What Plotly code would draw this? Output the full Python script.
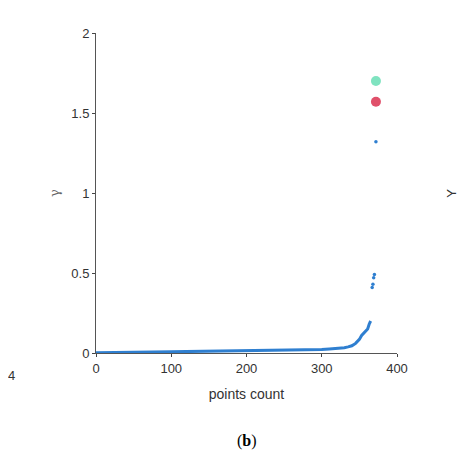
import plotly.graph_objects as go

# sorted gamma values (sampled) vs points count
x_low = [0, 10, 20, 30, 40, 50, 60, 70, 80, 90, 100, 120, 140, 160, 180, 200, 220, 240, 260,
         280, 300, 310, 320, 330, 335, 340, 345, 350, 353, 356, 359, 361, 363, 364, 365]
y_low = [0.002, 0.003, 0.004, 0.004, 0.005, 0.005, 0.006, 0.006, 0.007, 0.007, 0.008, 0.009,
         0.010, 0.011, 0.012, 0.013, 0.014, 0.016, 0.018, 0.020, 0.022, 0.025, 0.028, 0.033,
         0.038, 0.045, 0.060, 0.085, 0.11, 0.125, 0.135, 0.15, 0.18, 0.195, 0.20]
x_high = [367, 368, 369, 370, 372]
y_high = [0.41, 0.43, 0.47, 0.49, 1.32]
x_big = [372, 372]
y_big = [1.70, 1.57]
big_colors = ['#7fe3c0', '#e0506a']

blue = '#2f7fd0'
fig = go.Figure()
fig.add_trace(go.Scatter(x=x_low, y=y_low, mode='lines', line=dict(color=blue, width=3)))
fig.add_trace(go.Scatter(x=x_high, y=y_high, mode='markers', marker=dict(color=blue, size=3.5)))
fig.add_trace(go.Scatter(x=x_big, y=y_big, mode='markers', marker=dict(color=big_colors, size=10)))

font = dict(family='Liberation Sans, Arial, sans-serif', size=13, color='#333')
fig.update_layout(
    width=474, height=474, showlegend=False,
    paper_bgcolor='white', plot_bgcolor='white',
    margin=dict(l=88, r=85, t=25, b=129),
    font=font,
    xaxis=dict(range=[0, 400], tickvals=[0, 100, 200, 300, 400], showgrid=False, zeroline=False,
               showline=True, linecolor='#555', linewidth=1, ticks='outside', ticklen=3,
               title=dict(text='points count', font=dict(size=14, color='#333'), standoff=14)),
    yaxis=dict(range=[0, 2], tickvals=[0, 0.5, 1, 1.5, 2], ticktext=['0', '0.5', '1', '1.5', '2'],
               showgrid=False, zeroline=False, showline=True, linecolor='#555', linewidth=1,
               ticks='outside', ticklen=3,
               title=dict(text='γ', font=dict(family='DejaVu Serif, serif', size=13, color='#666'),
                          standoff=8)),
)
fig.add_annotation(text='(<b>b</b>)', x=0.5, y=-0.31, xref='paper', yref='paper', showarrow=False,
                   font=dict(family='Liberation Serif, serif', size=16, color='#000'))
fig.add_annotation(text='4', x=-0.3, y=-0.1, xref='paper', yref='paper', showarrow=False,
                   font=dict(size=13, color='#333'))
fig.add_annotation(text='Y', x=1.21, y=0.5, xref='paper', yref='paper', showarrow=False,
                   textangle=-90, font=dict(size=13, color='#333'))
fig.write_html("out.html")
